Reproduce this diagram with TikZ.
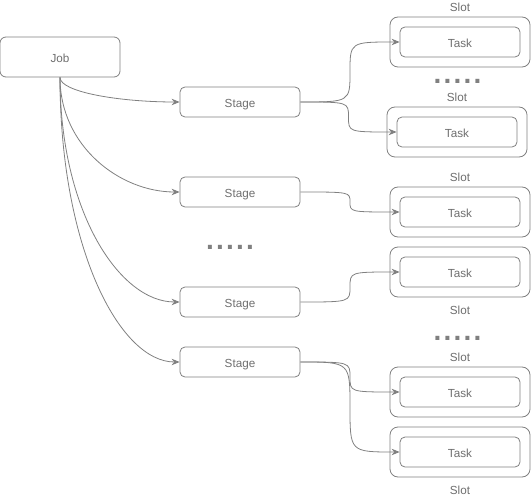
\documentclass[tikz,border=0pt]{standalone}
\usepackage{fontspec}
\setmainfont{Liberation Sans}
\usetikzlibrary{calc, positioning, arrows.meta}
\definecolor{edgegray}{RGB}{128,128,128}
\definecolor{textgray}{RGB}{110,110,110}

\begin{document}
\begin{tikzpicture}[x=1bp, y=-1bp, >={Stealth[length=8bp,width=6.5bp]},
  every node/.style={font=\fontsize{11.7bp}{14bp}\selectfont, text=textgray},
  box/.style={draw=edgegray, line width=0.8bp, rounded corners=5bp, minimum width=120bp, minimum height=30bp, inner sep=0pt, text height=10.5bp, text depth=0pt},
  slotbox/.style={box, minimum width=140bp, minimum height=50bp, rounded corners=8bp},
  dots/.style={anchor=base, inner sep=0pt, font=\fontsize{28bp}{28bp}\selectfont\bfseries, text=edgegray},
  link/.style={draw=edgegray, line width=0.8bp, ->},
  jbend/.style={to path={let \p1=(\tikztostart), \p2=(\tikztotarget) in
    .. controls (\x1,{\y1+0.6*((\y2)-(\y1))}) and ({\x1+0.5*((\x2)-(\x1))},\y2) .. (\tikztotarget)}},
  sbend/.style={to path={let \p1=(\tikztostart), \p2=(\tikztotarget), \p3=($(\tikztostart)!0.5!(\tikztotarget)$) in
    .. controls (\x3,\y1) .. (\x3,\y3) .. controls (\x3,\y2) .. (\tikztotarget)}}]
  \useasboundingbox (0,0) rectangle (531,499);

  % Job
  \node[box, minimum height=40bp, rounded corners=6bp] (job) at (60,57) {Job};

  % Stages
  \node[box] (stage1) at (240,102) {Stage};
  \node[box] (stage2) at (240,192) {Stage};
  \node[box] (stage3) at (240,302) {Stage};
  \node[box] (stage4) at (240,362) {Stage};
  \node[dots] (sdots) at (230,249.5) {.\kern2.2bp.\kern2.2bp.\kern2.2bp.\kern2.2bp.};

  % Slots with their tasks
  \node[slotbox] (slot1) at (460,42) {};
  \node[box] (task1) at (slot1) {Task};
  \node[above=1bp of slot1] (slotlabel1) {Slot};

  \node[dots] (tdots1) at (457.5,84) {.\kern2.2bp.\kern2.2bp.\kern2.2bp.\kern2.2bp.};

  \node[slotbox] (slot2) at (457,132) {};
  \node[box] (task2) at (slot2) {Task};
  \node[above=1bp of slot2] (slotlabel2) {Slot};

  \node[slotbox] (slot3) at (460,212) {};
  \node[box] (task3) at (slot3) {Task};
  \node[above=1bp of slot3] (slotlabel3) {Slot};

  \node[slotbox] (slot4) at (460,272) {};
  \node[box] (task4) at (slot4) {Task};
  \node[below=5.5bp of slot4] (slotlabel4) {Slot};

  \node[dots] (tdots2) at (457.5,340) {.\kern2.2bp.\kern2.2bp.\kern2.2bp.\kern2.2bp.};

  \node[slotbox] (slot5) at (460,392) {};
  \node[box] (task5) at (slot5) {Task};
  \node[above=1bp of slot5] (slotlabel5) {Slot};

  \node[slotbox] (slot6) at (460,452) {};
  \node[box] (task6) at (slot6) {Task};
  \node[below=5.5bp of slot6] (slotlabel6) {Slot};

  % Job to stages
  \draw[link] (job.south) to[jbend] (stage1.west);
  \draw[link] (job.south) to[jbend] (stage2.west);
  \draw[link] (job.south) to[jbend] (stage3.west);
  \draw[link] (job.south) to[jbend] (stage4.west);

  % Stages to tasks
  \draw[link] (stage1.east) to[sbend] (task1.west);
  \draw[link] (stage1.east) to[sbend] (task2.west);
  \draw[link] (stage2.east) to[sbend] (task3.west);
  \draw[link] (stage3.east) to[sbend] (task4.west);
  \draw[link] (stage4.east) to[sbend] (task5.west);
  \draw[link] (stage4.east) to[sbend] (task6.west);
\end{tikzpicture}
\end{document}
